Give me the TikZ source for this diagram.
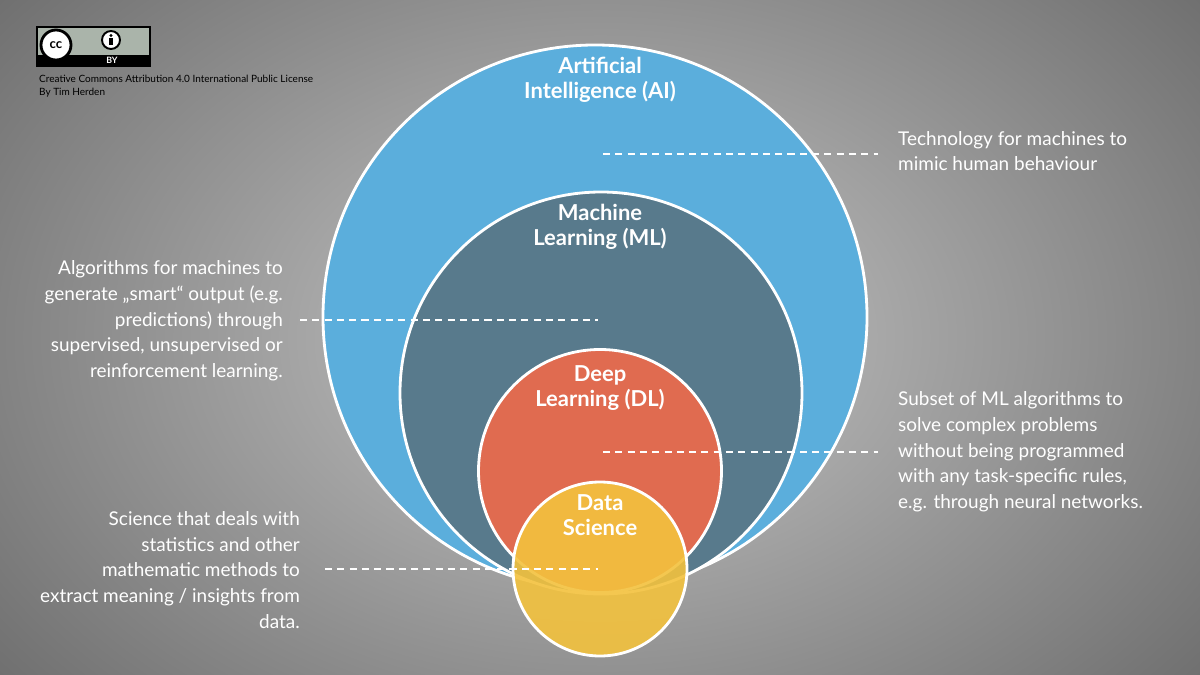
\documentclass[tikz,border=0pt]{standalone}
\usepackage{fontspec}
\setmainfont{Lato}
\begin{document}
\begin{tikzpicture}[x=0.02cm,y=-0.02cm,
  ring/.style={circle,draw=white,line width=1.6pt,inner sep=0pt},
  title/.style={text=white,font=\fontsize{12.5}{14.5}\selectfont\bfseries,align=center},
  desc/.style={text=white,font=\fontsize{10.8}{14.6}\selectfont},
  link/.style={draw=white,dashed,line width=1.1pt,dash pattern=on 4pt off 3pt}]
\useasboundingbox (0,0) rectangle (1200,675);
\shade[inner color=black!22,outer color=black!62] (-300,-300) rectangle (1500,975);
\node[ring,fill={rgb,255:red,91;green,174;blue,220},minimum size=544*0.02cm] (ai) at (595,317) {};
\node[ring,fill={rgb,255:red,88;green,122;blue,140},minimum size=402*0.02cm] (ml) at (601,393) {};
\node[ring,fill={rgb,255:red,224;green,107;blue,80},minimum size=243*0.02cm] (dl) at (600,471) {};
\node[ring,fill={rgb,255:red,243;green,194;blue,62},fill opacity=0.9,minimum size=174*0.02cm] (ds) at (600,569) {};
\node[title] (tai) at (600,80) {Artificial\\Intelligence (AI)};
\node[title] (tml) at (600,227) {Machine\\Learning (ML)};
\node[title] (tdl) at (600,388) {Deep\\Learning (DL)};
\node[title] (tds) at (600,515) {Data\\Science};
% descriptions
\node[desc,anchor=west,align=left] (dai) at (892,151) {Technology for machines to\\mimic human behaviour};
\node[desc,anchor=east,align=right] (dml) at (289,321) {Algorithms for machines to\\generate „smart“ output (e.g.\\predictions) through\\supervised, unsupervised or\\reinforcement learning.};
\node[desc,anchor=west,align=left] (ddl) at (892,452) {Subset of ML algorithms to\\solve complex problems\\without being programmed\\with any task-specific rules,\\e.g. through neural networks.};
\node[desc,anchor=east,align=right] (dds) at (306,570) {Science that deals with\\statistics and other\\mathematic methods to\\extract meaning / insights from\\data.};
\coordinate (cai) at (603,154); \coordinate (eai) at (878,154);
\coordinate (cml) at (598,320); \coordinate (eml) at (300,320);
\coordinate (cdl) at (603,452); \coordinate (edl) at (878,452);
\coordinate (cds) at (598,569); \coordinate (eds) at (325,569);
\draw[link] (cai) -- (eai);
\draw[link] (eml) -- (cml);
\draw[link] (cdl) -- (edl);
\draw[link] (eds) -- (cds);
% CC logo
\node[draw=black,line width=0.6pt,fill={rgb,255:red,170;green,180;blue,170},minimum width=113*0.02cm,minimum height=39*0.02cm,inner sep=0pt] (logo) at (93.5,46.5) {};
\fill[black] (37,55) rectangle (150,66);
\node[text=white,font=\fontsize{5}{5}\selectfont\bfseries] (by) at (112,60.5) {BY};
\node[circle,draw=black,line width=1.6pt,fill=white,minimum size=30*0.02cm,inner sep=0pt,font=\fontsize{7.5}{7.5}\selectfont\bfseries] (cc) at (56,45) {cc};
\node[circle,draw=black,line width=1.1pt,fill=white,minimum size=18*0.02cm,inner sep=0pt] (pi) at (111,40) {};
\fill[black] (111,35.5) circle (1.6);
\fill[black] (109,38.5) rectangle (113,45);
\node[anchor=west,text=black,font=\fontsize{5.7}{7.4}\selectfont,align=left] (lic) at (33,86.5) {Creative Commons Attribution 4.0 International Public License\\By Tim Herden};
\end{tikzpicture}
\end{document}
